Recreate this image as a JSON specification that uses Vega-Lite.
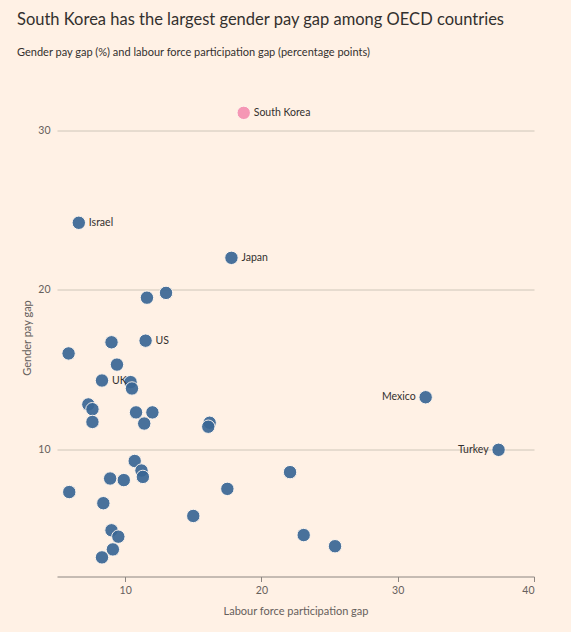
{
  "$schema": "https://vega.github.io/schema/vega-lite/v6.json",
  "width": 477,
  "height": 478,
  "autosize": {"type": "none"},
  "padding": {"left": 57, "top": 98.5, "right": 37, "bottom": 55},
  "background": "#FFF1E5",
  "config": {
    "view": {"stroke": null},
    "font": "Lato",
    "axis": {"labelFont": "Lato", "titleFont": "Lato", "labelColor": "#66605C", "titleColor": "#66605C", "labelFontSize": 10.5, "titleFontSize": 11, "titleFontWeight": "normal"}
  },
  "title": {
    "text": "South Korea has the largest gender pay gap among OECD countries",
    "subtitle": "Gender pay gap (%) and labour force participation gap (percentage points)",
    "anchor": "start",
    "frame": "group",
    "dx": -40,
    "offset": 41,
    "font": "Lato",
    "fontSize": 16.5,
    "fontWeight": "normal",
    "color": "#33302E",
    "subtitleFont": "Lato",
    "subtitleFontSize": 11,
    "subtitleColor": "#33302E",
    "subtitlePadding": 18
  },
  "data": {
    "values": [
      {"country": "South Korea", "lfp": 18.7, "pay": 31.1, "side": "right", "hl": "yes"},
      {"country": "Israel", "lfp": 6.6, "pay": 24.2, "side": "right", "hl": "no"},
      {"country": "Japan", "lfp": 17.8, "pay": 22.0, "side": "right", "hl": "no"},
      {"country": "", "lfp": 11.6, "pay": 19.5, "side": "none", "hl": "no"},
      {"country": "", "lfp": 13.0, "pay": 19.8, "side": "none", "hl": "no"},
      {"country": "US", "lfp": 11.5, "pay": 16.8, "side": "right", "hl": "no"},
      {"country": "", "lfp": 9.0, "pay": 16.7, "side": "none", "hl": "no"},
      {"country": "", "lfp": 5.85, "pay": 16.0, "side": "none", "hl": "no"},
      {"country": "", "lfp": 9.4, "pay": 15.3, "side": "none", "hl": "no"},
      {"country": "UK", "lfp": 8.3, "pay": 14.3, "side": "right", "hl": "no"},
      {"country": "", "lfp": 10.4, "pay": 14.2, "side": "none", "hl": "no"},
      {"country": "", "lfp": 10.5, "pay": 13.8, "side": "none", "hl": "no"},
      {"country": "", "lfp": 7.3, "pay": 12.8, "side": "none", "hl": "no"},
      {"country": "", "lfp": 7.6, "pay": 12.5, "side": "none", "hl": "no"},
      {"country": "", "lfp": 7.6, "pay": 11.7, "side": "none", "hl": "no"},
      {"country": "", "lfp": 10.8, "pay": 12.3, "side": "none", "hl": "no"},
      {"country": "", "lfp": 12.0, "pay": 12.3, "side": "none", "hl": "no"},
      {"country": "", "lfp": 11.4, "pay": 11.6, "side": "none", "hl": "no"},
      {"country": "", "lfp": 16.2, "pay": 11.65, "side": "none", "hl": "no"},
      {"country": "", "lfp": 16.1, "pay": 11.4, "side": "none", "hl": "no"},
      {"country": "Mexico", "lfp": 32.05, "pay": 13.25, "side": "left", "hl": "no"},
      {"country": "Turkey", "lfp": 37.4, "pay": 9.95, "side": "left", "hl": "no"},
      {"country": "", "lfp": 10.7, "pay": 9.25, "side": "none", "hl": "no"},
      {"country": "", "lfp": 11.2, "pay": 8.65, "side": "none", "hl": "no"},
      {"country": "", "lfp": 11.3, "pay": 8.25, "side": "none", "hl": "no"},
      {"country": "", "lfp": 8.9, "pay": 8.15, "side": "none", "hl": "no"},
      {"country": "", "lfp": 9.9, "pay": 8.05, "side": "none", "hl": "no"},
      {"country": "", "lfp": 5.9, "pay": 7.3, "side": "none", "hl": "no"},
      {"country": "", "lfp": 8.4, "pay": 6.6, "side": "none", "hl": "no"},
      {"country": "", "lfp": 17.5, "pay": 7.5, "side": "none", "hl": "no"},
      {"country": "", "lfp": 22.1, "pay": 8.55, "side": "none", "hl": "no"},
      {"country": "", "lfp": 15.0, "pay": 5.8, "side": "none", "hl": "no"},
      {"country": "", "lfp": 9.0, "pay": 4.9, "side": "none", "hl": "no"},
      {"country": "", "lfp": 9.5, "pay": 4.5, "side": "none", "hl": "no"},
      {"country": "", "lfp": 9.1, "pay": 3.7, "side": "none", "hl": "no"},
      {"country": "", "lfp": 8.3, "pay": 3.2, "side": "none", "hl": "no"},
      {"country": "", "lfp": 23.1, "pay": 4.6, "side": "none", "hl": "no"},
      {"country": "", "lfp": 25.4, "pay": 3.9, "side": "none", "hl": "no"}
    ]
  },
  "encoding": {
    "x": {
      "field": "lfp", "type": "quantitative",
      "scale": {"domain": [5, 40], "nice": false, "zero": false},
      "axis": {"title": "Labour force participation gap", "values": [10, 20, 30, 40], "grid": false, "domainColor": "#8C8580", "tickColor": "#8C8580", "tickSize": 5, "labelPadding": 4, "titlePadding": 9}
    },
    "y": {
      "field": "pay", "type": "quantitative",
      "scale": {"domain": [2, 32], "nice": false, "zero": false},
      "axis": {"title": "Gender pay gap", "values": [10, 20, 30], "grid": true, "gridColor": "#CEC6B9", "domain": false, "ticks": false, "labelPadding": 7, "titlePadding": 5}
    }
  },
  "layer": [
    {
      "mark": {"type": "circle", "size": 180, "opacity": 0.92, "stroke": "#FFF7F0", "strokeWidth": 1},
      "encoding": {
        "color": {"field": "hl", "type": "nominal", "scale": {"domain": ["no", "yes"], "range": ["#3A6795", "#F590B2"]}, "legend": null}
      }
    },
    {
      "transform": [{"filter": "datum.side == 'right'"}],
      "mark": {"type": "text", "align": "left", "dx": 10, "baseline": "middle", "fontSize": 10.5, "color": "#33302E", "font": "Lato"},
      "encoding": {"text": {"field": "country"}}
    },
    {
      "transform": [{"filter": "datum.side == 'left'"}],
      "mark": {"type": "text", "align": "right", "dx": -10, "baseline": "middle", "fontSize": 10.5, "color": "#33302E", "font": "Lato"},
      "encoding": {"text": {"field": "country"}}
    }
  ]
}
